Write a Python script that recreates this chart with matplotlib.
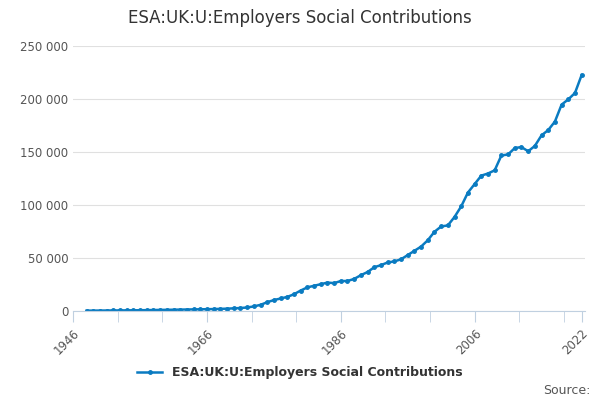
import matplotlib
matplotlib.use("Agg")
import matplotlib.pyplot as plt
from matplotlib.ticker import FuncFormatter, MultipleLocator, FixedLocator

years = list(range(1948, 2023))
values = [500, 550, 600, 650, 700, 750, 800, 850, 900, 1000, 1100, 1200, 1300,
          1400, 1500, 1600, 1700, 1800, 1900, 2000, 2200, 2400, 2700, 3000, 3500,
          4500, 6000, 8500, 10500, 12000, 13500, 16000, 19500, 22500, 24000, 25500,
          27000, 26500, 28500, 28500, 30500, 34000, 37000, 41500, 43500, 46000, 47000,
          49000, 53000, 57000, 61000, 67000, 75000, 80000, 81000, 89000, 99000, 112000,
          120000, 128000, 130000, 133000, 147000, 148000, 154000, 155000, 151000,
          156000, 166000, 171000, 179000, 195000, 200000, 206000, 223000]
series_name = "ESA:UK:U:Employers Social Contributions"

fig = plt.figure(figsize=(6, 4), dpi=100)
ax = fig.add_axes([0.122, 0.222, 0.853, 0.662])
c = "#0a7bc1"
ax.plot(years, values, color=c, lw=1.8, marker="o", ms=2.5, label=series_name)
ax.set_xlim(1946, 2022.5)
ax.set_ylim(0, 250000)
ax.yaxis.set_major_locator(MultipleLocator(50000))
ax.yaxis.set_major_formatter(FuncFormatter(lambda v, p: f"{int(v):,}".replace(",", " ")))
ax.set_xticks([1946, 1966, 1986, 2006, 2022])
ax.xaxis.set_minor_locator(FixedLocator([1946 + k * 20 / 3 for k in range(12)]))
ax.grid(axis="y", color="#e0e0e0", lw=0.8)
for s in ["top", "right", "left"]:
    ax.spines[s].set_visible(False)
ax.spines["bottom"].set_color("#c0d0e0")
ax.tick_params(axis="y", length=0, labelsize=8.5, labelcolor="#555555")
ax.tick_params(axis="x", which="both", color="#c0d0e0", length=8, labelsize=8.5, labelcolor="#555555")
plt.setp(ax.get_xticklabels(), rotation=45, ha="right", rotation_mode="anchor")
fig.text(0.5, 0.955, series_name, ha="center", va="center", fontsize=12, color="#333333")
fig.legend(loc="center", bbox_to_anchor=(0.5, 0.068), frameon=False,
           prop={"size": 9, "weight": "bold"}, labelcolor="#333333")
fig.text(0.985, 0.025, "Source:", ha="right", va="center", fontsize=9, color="#555555")
fig.savefig("out.png")
